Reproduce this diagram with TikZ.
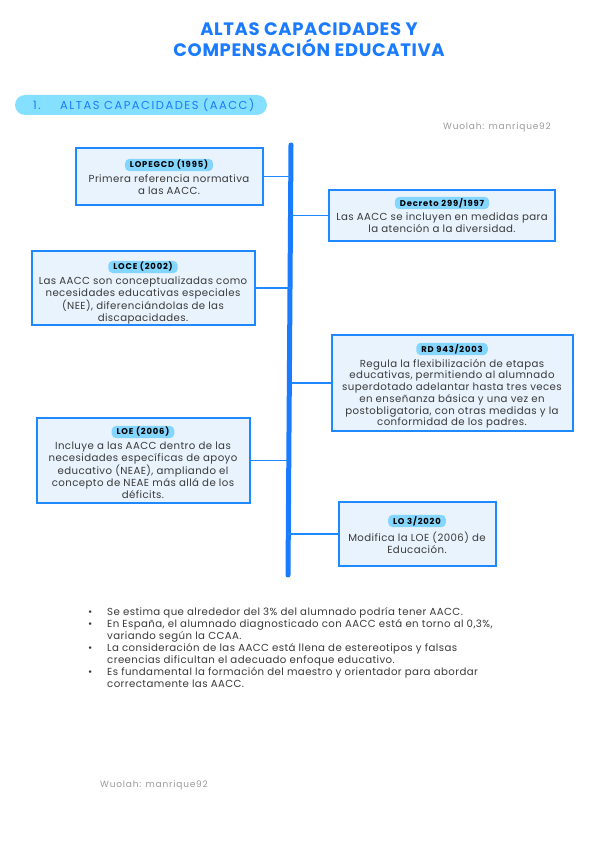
\documentclass[tikz,border=0pt]{standalone}
\usepackage{fontspec}
\setmainfont{Poppins}
\definecolor{titleblue}{HTML}{1A7BFF}
\definecolor{boxblue}{HTML}{1E88FF}
\definecolor{boxfill}{HTML}{E8F3FD}
\definecolor{tagcyan}{HTML}{84D6FF}
\definecolor{pillcyan}{HTML}{85E0FF}
\definecolor{bodygray}{HTML}{3A3A3A}
\definecolor{wmgray}{HTML}{9A9A9A}
\begin{document}
\begin{tikzpicture}[x=1pt,y=-1pt,
  ebox/.style={draw=boxblue, fill=boxfill, line width=2pt, inner sep=0pt},
  tagbox/.style={fill=tagcyan, rounded corners=4.5pt, inner xsep=5pt, inner ysep=1.4pt, font=\fontsize{8.4}{9}\selectfont\bfseries\addfontfeatures{LetterSpace=10}, text=black},
  etext/.style={anchor=north, inner sep=0pt, align=center, text=bodygray, font=\fontsize{10.2}{11.7}\selectfont\addfontfeatures{LetterSpace=4}},
  conn/.style={draw=boxblue, line width=1.5pt},
  spine/.style={draw=titleblue, line width=5pt, line cap=round},
  wm/.style={text=wmgray, font=\fontsize{9}{10}\selectfont\addfontfeatures{LetterSpace=9}, inner sep=0pt}
]
\useasboundingbox[fill=white] (0,0) rectangle (599,848);

% title
\node[text=titleblue, font=\fontsize{18}{21}\selectfont\bfseries\addfontfeatures{LetterSpace=3.5}, align=center] (title) at (309,40) {ALTAS CAPACIDADES Y\\COMPENSACIÓN EDUCATIVA};

% section pill
\node[fill=pillcyan, rounded corners=10pt, minimum width=252pt, minimum height=20pt, inner sep=0pt] (pill) at (141,105) {};
\node[text=titleblue, font=\fontsize{11.5}{12}\selectfont\addfontfeatures{LetterSpace=13}, anchor=west, inner sep=0pt] (pnum) at (33,105) {1.};
\node[text=titleblue, font=\fontsize{11.5}{12}\selectfont\addfontfeatures{LetterSpace=13}, anchor=west, inner sep=0pt] (ptxt) at (60,105) {ALTAS CAPACIDADES (AACC)};

% watermarks
\node[wm, anchor=west] (wm1) at (443,127) {Wuolah: manrique92};
\node[wm, anchor=west] (wm2) at (100,785) {Wuolah: manrique92};

% spine
\coordinate (s1) at (291,145);
\coordinate (s2) at (288,575);
\draw[spine] (s1) -- (s2);

% boxes
\node[ebox, minimum width=187pt, minimum height=57pt] (b1) at (169.5,176.5) {};
\node[ebox, minimum width=226pt, minimum height=51pt] (b2) at (442,215.5) {};
\node[ebox, minimum width=223pt, minimum height=74pt] (b3) at (143.5,288) {};
\node[ebox, minimum width=241pt, minimum height=96pt] (b4) at (452.5,383) {};
\node[ebox, minimum width=213pt, minimum height=85pt] (b5) at (143.5,460.5) {};
\node[ebox, minimum width=157pt, minimum height=64pt] (b6) at (417.5,534) {};

% connectors
\draw[conn] (b1.east) -- (b1.east -| s1);
\draw[conn] (b2.west) -- (b2.west -| s1);
\draw[conn] (b3.east) -- (b3.east -| s1);
\draw[conn] (b4.west) -- (b4.west -| s1);
\draw[conn] (b5.east) -- (b5.east -| s2);
\draw[conn] (b6.west) -- (b6.west -| s2);

% tags
\node[tagbox] (t1) at (169,165) {LOPEGCD (1995)};
\node[tagbox] (t2) at (442,203) {Decreto 299/1997};
\node[tagbox] (t3) at (143,267) {LOCE (2002)};
\node[tagbox] (t4) at (452,349) {RD 943/2003};
\node[tagbox] (t5) at (143,432) {LOE (2006)};
\node[tagbox] (t6) at (417,521) {LO 3/2020};

% texts
\node[etext] (x1) at (169,175) {Primera referencia normativa\\a las AACC.};
\node[etext] (x2) at (442,213) {Las AACC se incluyen en medidas para\\la atención a la diversidad.};
\node[etext] (x3) at (143,277) {Las AACC son conceptualizadas como\\necesidades educativas especiales\\(NEE), diferenciándolas de las\\discapacidades.};
\node[etext] (x4) at (452,359) {Regula la flexibilización de etapas\\educativas, permitiendo al alumnado\\superdotado adelantar hasta tres veces\\en enseñanza básica y una vez en\\postobligatoria, con otras medidas y la\\conformidad de los padres.};
\node[etext] (x5) at (143,442) {Incluye a las AACC dentro de las\\necesidades específicas de apoyo\\educativo (NEAE), ampliando el\\concepto de NEAE más allá de los\\déficits.};
\node[etext] (x6) at (417,532) {Modifica la LOE (2006) de\\Educación.};

% bullets
\node[anchor=north west, inner sep=0pt, align=left, text=bodygray, font=\fontsize{10.2}{12}\selectfont\addfontfeatures{LetterSpace=4}] (bul) at (88,607) {%
\makebox[19pt][l]{\textbullet}Se estima que alrededor del 3\% del alumnado podría tener AACC.\\
\makebox[19pt][l]{\textbullet}En España, el alumnado diagnosticado con AACC está en torno al 0,3\%,\\
\hspace*{19pt}variando según la CCAA.\\
\makebox[19pt][l]{\textbullet}La consideración de las AACC está llena de estereotipos y falsas\\
\hspace*{19pt}creencias dificultan el adecuado enfoque educativo.\\
\makebox[19pt][l]{\textbullet}Es fundamental la formación del maestro y orientador para abordar\\
\hspace*{19pt}correctamente las AACC.};
\end{tikzpicture}
\end{document}
